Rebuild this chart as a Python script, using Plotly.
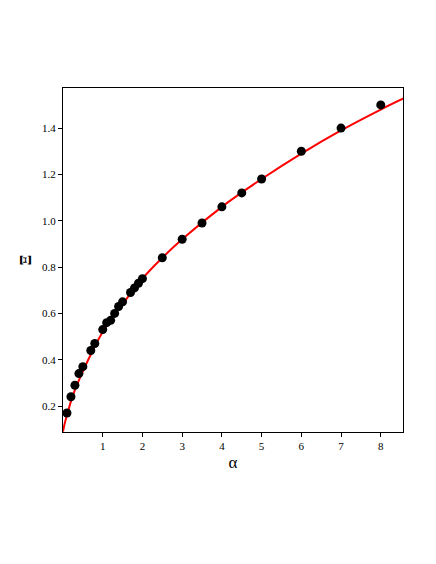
import plotly.graph_objects as go

alpha = [0.1,0.2,0.3,0.4,0.5,0.7,0.8,1.0,1.1,1.2,1.3,1.4,1.5,1.7,1.8,1.9,2.0,2.5,3,3.5,4,4.5,5,6,7,8]
xi = [0.17,0.24,0.29,0.34,0.37,0.44,0.47,0.53,0.56,0.57,0.60,0.63,0.65,0.69,0.71,0.73,0.75,0.84,0.92,0.99,1.06,1.12,1.18,1.30,1.40,1.50]
fit_x = [0.0,0.05,0.1,0.2,0.3,0.5,0.75,1.0,1.5,2.0,2.5,3,4,5,6,7,8,8.6]
fit_y = [0.09,0.13,0.16,0.22,0.27,0.35,0.44,0.52,0.64,0.75,0.84,0.92,1.06,1.18,1.29,1.39,1.48,1.53]

fig = go.Figure()
fig.add_trace(go.Scatter(x=fit_x, y=fit_y, mode="lines", line=dict(color="red", width=2, shape="spline")))
fig.add_trace(go.Scatter(x=alpha, y=xi, mode="markers", marker=dict(color="black", size=9)))
ax = dict(showgrid=False, zeroline=False, showline=True, mirror=True, linecolor="black",
          ticks="outside", tickcolor="black", ticklen=4, tickfont=dict(family="Liberation Serif", size=11, color="black"))
fig.update_layout(width=436, height=564, plot_bgcolor="white", paper_bgcolor="white", showlegend=False,
                  margin=dict(l=55, r=41, t=80, b=140),
                  xaxis=dict(ax, range=[0, 8.56], tickvals=[1,2,3,4,5,6,7,8],
                             title=dict(text="α", font=dict(family="Liberation Serif", size=17, color="black"), standoff=4)),
                  yaxis=dict(ax, range=[0.088, 1.573], tickvals=[0.2,0.4,0.6,0.8,1.0,1.2,1.4], tickformat=".1f",
                             title=dict(text="<b>Ξ</b>", font=dict(family="DejaVu Serif", size=15, color="black"), standoff=6)))
fig.write_html("out.html")
